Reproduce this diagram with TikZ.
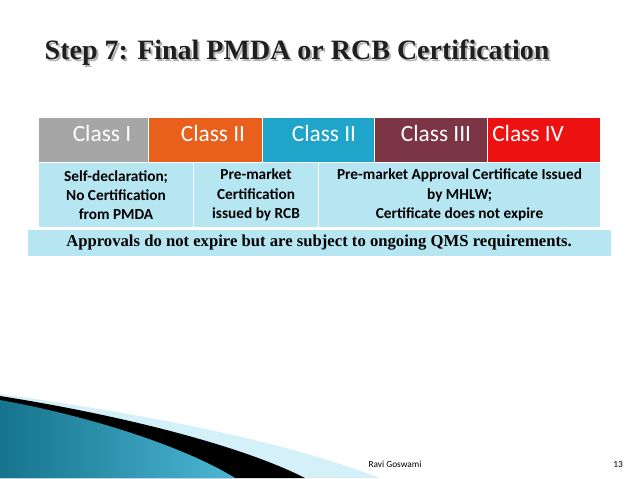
\documentclass[tikz,border=0pt]{standalone}
\usepackage{fontspec}
\setmainfont{Carlito}
\newfontfamily\serifb{Liberation Serif}
\usetikzlibrary{shadings}
\definecolor{hgray}{HTML}{A6A6A6}
\definecolor{horange}{HTML}{E8601C}
\definecolor{hteal}{HTML}{1FA5C9}
\definecolor{hmaroon}{HTML}{7B3545}
\definecolor{hred}{HTML}{EE1111}
\definecolor{lblue}{HTML}{B7E6F3}
\definecolor{ttl}{HTML}{1F1F1F}
\begin{document}
\begin{tikzpicture}[x=0.75pt,y=-0.75pt,
  hdr/.style={draw=white,line width=0.8pt,text=white,font=\fontsize{17.5}{18}\selectfont,anchor=north west,inner sep=0pt,text depth=0pt,text height=8pt,minimum height=45*0.75pt},
  lbl/.style={text=white,font=\fontsize{17.5}{18}\selectfont,inner sep=0pt},
  body/.style={fill=lblue,draw=white,line width=0.8pt,anchor=north west,inner sep=0pt,align=center,font=\fontsize{11.5}{14.5}\selectfont\bfseries}]
\useasboundingbox (0,0) rectangle (638,478);
% title
\node[text=gray!60,font=\serifb\fontsize{21}{24}\selectfont\bfseries,anchor=west] at (42,55) {Step 7: Final PMDA or RCB Certification};
\node[text=ttl,font=\serifb\fontsize{21}{24}\selectfont\bfseries,anchor=west] (title) at (40,53) {Step 7: Final PMDA or RCB Certification};
% header
\node[hdr,fill=hgray,minimum width=110*0.75pt] (c1) at (38,117) {};
\node[hdr,fill=horange,minimum width=114*0.75pt] (c2) at (148,117) {};
\node[hdr,fill=hteal,minimum width=112*0.75pt] (c3) at (262,117) {};
\node[hdr,fill=hmaroon,minimum width=113*0.75pt] (c4) at (374,117) {};
\node[hdr,fill=hred,minimum width=113*0.75pt] (c5) at (487,117) {};
\node[lbl] at (102,133) {Class I};
\node[lbl] at (213,133) {Class II};
\node[lbl] at (324,133) {Class II};
\node[lbl] at (436,133) {Class III};
\node[lbl,anchor=west] at (492,133) {Class IV};
% body
\node[body,minimum width=155*0.75pt,minimum height=65*0.75pt] (b1) at (38,162) {Self-declaration;\\No Certification\\from PMDA};
\node[body,minimum width=125*0.75pt,minimum height=65*0.75pt] (b2) at (193,162) {Pre-market\\Certification\\issued by RCB};
\node[body,minimum width=282*0.75pt,minimum height=65*0.75pt] (b3) at (318,162) {Pre-market Approval Certificate Issued\\by MHLW;\\Certificate does not expire};
\node[body,draw=none,minimum width=583*0.75pt,minimum height=26*0.75pt,font=\serifb\fontsize{12.5}{14}\selectfont\bfseries] (bar) at (27,229) {Approvals do not expire but are subject to ongoing QMS requirements.};
% bottom swoosh
\fill[lblue!60] (0,394) .. controls (150,415) and (280,440) .. (380,478) -- (0,478) -- cycle;
\fill[black] (0,396) .. controls (120,415) and (240,445) .. (305,478) -- (0,478) -- cycle;
\shade[left color=hteal!70!black,right color=hteal!80!white] (0,400) .. controls (100,418) and (190,450) .. (235,478) -- (0,478) -- cycle;
% footer
\node[font=\fontsize{7}{8}\selectfont] (auth) at (395,464) {Ravi Goswami};
\node[font=\fontsize{7}{8}\selectfont] (pg) at (618,464) {13};
\end{tikzpicture}
\end{document}
